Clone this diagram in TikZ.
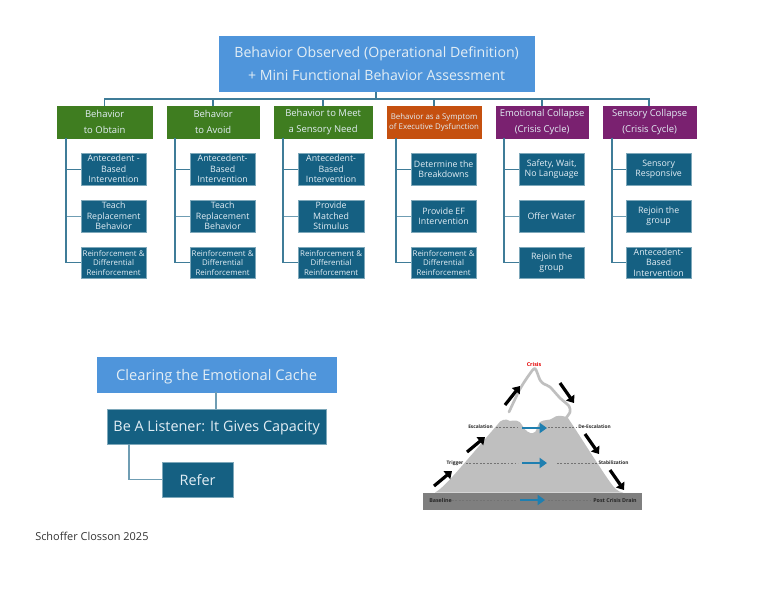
\documentclass[tikz,border=0pt]{standalone}
\usepackage{fontspec}
\setmainfont{Open Sans}
\usetikzlibrary{arrows.meta}
\definecolor{rootblue}{HTML}{4F95DB}
\definecolor{leafblue}{HTML}{156082}
\definecolor{hgreen}{HTML}{3F7D20}
\definecolor{horange}{HTML}{C5500F}
\definecolor{hpurple}{HTML}{7A2170}
\definecolor{boxtext}{HTML}{E3EEF5}
\definecolor{conn}{HTML}{3F7C98}
\definecolor{connlight}{HTML}{6F9DB3}
\definecolor{mtn}{HTML}{BFBFBF}
\definecolor{mbase}{HTML}{7F7F7F}
\definecolor{arrowblue}{HTML}{1F7FB0}
\tikzset{
  x=0.75pt,y=-0.75pt,
  boxbase/.style={draw=white!45!leafblue,line width=0.2pt,text=boxtext,align=center,inner sep=0pt,anchor=north west},
  rootbox/.style={boxbase,fill=rootblue,draw=rootblue,font=\fontsize{10.6}{17}\selectfont},
  greenbox/.style={boxbase,fill=hgreen,draw=hgreen,font=\fontsize{7.1}{12}\selectfont},
  orangebox/.style={boxbase,fill=horange,draw=horange,font=\fontsize{5.9}{7.6}\selectfont},
  purplebox/.style={boxbase,fill=hpurple,draw=hpurple,font=\fontsize{7.1}{12}\selectfont},
  leafbox/.style={boxbase,fill=leafblue,font=\fontsize{6.6}{7.9}\selectfont},
  leafsmall/.style={boxbase,fill=leafblue,font=\fontsize{5.9}{7.2}\selectfont},
  biglabel/.style={font=\fontsize{10.8}{12}\selectfont,text depth=0pt},
  conline/.style={draw=conn,line width=0.9pt},
  conlight/.style={draw=connlight,line width=0.9pt},
  mlabel/.style={font=\bfseries\fontsize{3.6}{4}\selectfont,text=black!85,inner sep=0pt},
  blackarrow/.style={-{Triangle[width=7.5pt,length=5pt]},line width=2.4pt,black},
  bluearrow/.style={-{Triangle[width=7.5pt,length=5.5pt]},line width=2pt,arrowblue},
  dotline/.style={draw=black!55,line width=0.5pt,dash pattern=on 1.4pt off 1.2pt},
}
\newcommand{\bx}[7]{%
  \pgfmathsetmacro{\bw}{0.75*(#4-#2)}\pgfmathsetmacro{\bh}{0.75*(#5-#3)}%
  \node[#6,minimum width=\bw pt,minimum height=\bh pt] (#1) at (#2,#3) {#7};}
\begin{document}
\begin{tikzpicture}
\useasboundingbox (0,0) rectangle (768,594);
\fill[white] (0,0) rectangle (768,594);
% connectors first
\coordinate (rootfoot) at (376,91);
\draw[conline] (rootfoot) -- (376,99);
\draw[conline] (104.5,106) -- (104.5,99) -- (649,99) -- (649,106);
\foreach \x in {213,323,434,542} \draw[conline] (\x,99) -- (\x,106);
% root
\bx{root}{219}{36}{534}{91}{rootbox}{Behavior Observed (Operational Definition)\\+ Mini Functional Behavior Assessment}
% headers
\bx{h1}{57}{106}{152}{138}{greenbox}{Behavior\\to Obtain}
\bx{h2}{167}{106}{259}{138}{greenbox}{Behavior\\to Avoid}
\bx{h3}{274}{106}{372}{138}{greenbox}{Behavior to Meet\\a Sensory Need}
\bx{h4}{387}{106}{481}{138}{orangebox}{Behavior as a Symptom\\of Executive Dysfunction}
\bx{h5}{496}{106}{588}{138}{purplebox}{Emotional Collapse\\(Crisis Cycle)}
\bx{h6}{603}{106}{696}{138}{purplebox}{Sensory Collapse\\(Crisis Cycle)}
% leaves
\bx{a1}{81}{153}{146}{185}{leafbox}{Antecedent -\\Based\\Intervention}
\bx{b1}{81}{200}{146}{232}{leafbox}{Teach\\Replacement\\Behavior}
\bx{c1}{81}{247}{146}{278}{leafsmall}{Reinforcement \&\\Differential\\Reinforcement}
\bx{a2}{190}{153}{255}{185}{leafbox}{Antecedent-\\Based\\Intervention}
\bx{b2}{190}{200}{255}{232}{leafbox}{Teach\\Replacement\\Behavior}
\bx{c2}{190}{247}{255}{278}{leafsmall}{Reinforcement \&\\Differential\\Reinforcement}
\bx{a3}{298}{153}{364}{185}{leafbox}{Antecedent-\\Based\\Intervention}
\bx{b3}{298}{200}{364}{232}{leafbox}{Provide\\Matched\\Stimulus}
\bx{c3}{298}{247}{364}{278}{leafsmall}{Reinforcement \&\\Differential\\Reinforcement}
\bx{a4}{411}{153}{476}{185}{leafbox}{Determine the\\Breakdowns}
\bx{b4}{411}{200}{476}{232}{leafbox}{Provide EF\\Intervention}
\bx{c4}{411}{247}{476}{278}{leafsmall}{Reinforcement \&\\Differential\\Reinforcement}
\bx{a5}{519}{153}{584}{185}{leafbox}{Safety, Wait,\\No Language}
\bx{b5}{519}{200}{584}{232}{leafbox}{Offer Water}
\bx{c5}{519}{247}{584}{278}{leafbox}{Rejoin the\\group}
\bx{a6}{626}{153}{691}{185}{leafbox}{Sensory\\Responsive}
\bx{b6}{626}{200}{691}{232}{leafbox}{Rejoin the\\group}
\bx{c6}{626}{247}{691}{278}{leafbox}{Antecedent-\\Based\\Intervention}
% trunks
\foreach \n/\x in {1/66,2/175,3/283,4/396,5/504,6/612}{
  \coordinate (t\n) at (\x,138);
  \draw[conline] (t\n) |- (a\n.west);
  \draw[conlight] (t\n |- b\n.west) -- (b\n.west);
  \draw[conline] (t\n) |- (c\n.west);
}
% bottom tree
\bx{cache}{97}{357}{336}{392}{rootbox,font=\fontsize{11}{12}\selectfont,text depth=0pt}{Clearing the Emotional Cache}
\bx{listen}{107}{409}{326}{444}{leafbox,biglabel}{Be A Listener: It Gives Capacity}
\bx{refer}{162}{462}{233}{497}{leafbox,biglabel}{Refer}
\coordinate (lf) at (216,392);
\draw[conlight] (lf) -- (lf |- listen.north);
\coordinate (lt) at (129,444);
\draw[conlight] (lt) |- (refer.west);
\node[anchor=west,inner sep=0pt,font=\fontsize{8.2}{9}\selectfont,text=black!80] (credit) at (35,536.5) {Schoffer Closson 2025};
% mountain
\fill[mbase] (423,492.5) rectangle (642,510);
\fill[mtn] (435,492.5) .. controls (445,487) and (460,468) .. (498,424)
  .. controls (500,420) and (506,418) .. (510,421)
  .. controls (514,420) and (520,420) .. (522,425)
  .. controls (525,431) and (530,434) .. (533,433)
  .. controls (537,433) and (537,425) .. (540,422)
  .. controls (544,419) and (550,421) .. (553,418)
  .. controls (556,415) and (563,415) .. (568,418)
  .. controls (580,436) and (600,468) .. (610,482)
  .. controls (614,488) and (618,492) .. (623,492.5) -- cycle;
\draw[mtn,line width=2pt,line join=round,line cap=round] plot[smooth,tension=0.45] coordinates {(509,412) (520,389) (529,375) (535,368.5) (540,380) (544,384) (550,387) (560,398) (569,406) (570,412) (566,418)};
% dashes
\draw[dotline] (496,427) -- (518,427);
\draw[dotline] (548,427) -- (576,427);
\draw[dotline] (466,463) -- (518,463);
\draw[dotline] (557,463) -- (597,463);
\draw[dotline] (452,500) -- (516,500);
\draw[dotline] (548,500) -- (593,500);
% black arrows
\draw[blackarrow] (434,486) -- (452,471);
\draw[blackarrow] (467,452) -- (485,437);
\draw[blackarrow] (505,405) -- (520,386);
\draw[blackarrow] (560,383) -- (574,403);
\draw[blackarrow] (585,434) -- (599,454);
\draw[blackarrow] (610,470) -- (624,490);
% blue arrows
\draw[bluearrow] (522,428) -- (547,428);
\draw[bluearrow] (522,463) -- (547,463);
\draw[bluearrow] (520,500) -- (545,500);
% labels
\node[mlabel,text=red!90!black,font=\bfseries\fontsize{4}{5}\selectfont] (crisis) at (534,364) {Crisis};
\node[mlabel] (esc) at (480.5,427) {Escalation};
\node[mlabel] (desc) at (594.5,427) {De-Escalation};
\node[mlabel] (trig) at (455,463) {Trigger};
\node[mlabel] (stab) at (613.5,463) {Stabilization};
\node[mlabel,anchor=west,font=\bfseries\fontsize{4}{5}\selectfont] (base) at (429,500) {Baseline};
\node[mlabel,anchor=east,font=\bfseries\fontsize{4}{5}\selectfont] (post) at (637,500) {Post Crisis Drain};
\end{tikzpicture}
\end{document}
